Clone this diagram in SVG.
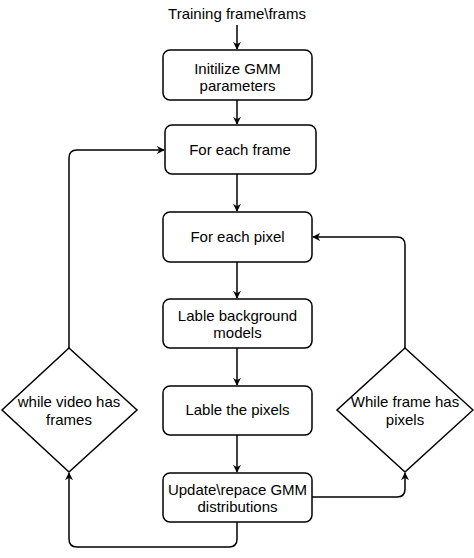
<svg xmlns="http://www.w3.org/2000/svg" width="474" height="558" viewBox="0 0 474 558">
<defs>
<style>
.box{fill:#fff;stroke:#000;stroke-width:1.5}
.t{font-family:"Liberation Sans",Arial,sans-serif;font-size:15px;fill:#000;text-anchor:middle}
.c{fill:none;stroke:#000;stroke-width:1.5}
</style>
<marker id="ah" viewBox="0 0 10 10" refX="9" refY="5" markerWidth="8" markerHeight="8" markerUnits="userSpaceOnUse" orient="auto"><path d="M0,0 L10,5 L0,10 L3,5 Z" fill="#000"/></marker>
</defs>
<rect width="474" height="558" fill="#fff"/>
<g id="connectors">
<path class="c" d="M237,25 V49" marker-end="url(#ah)"/>
<path class="c" d="M237,100 V124" marker-end="url(#ah)"/>
<path class="c" d="M237,174 V211" marker-end="url(#ah)"/>
<path class="c" d="M237,262 V298" marker-end="url(#ah)"/>
<path class="c" d="M237,348 V385" marker-end="url(#ah)"/>
<path class="c" d="M237,435 V472" marker-end="url(#ah)"/>
<path class="c" d="M237,522 V539 Q237,547 229,547 H77 Q69,547 69,539 V473" marker-end="url(#ah)"/>
<path class="c" d="M69,348 V158 Q69,150 77,150 H164" marker-end="url(#ah)"/>
<path class="c" d="M312,497 H397 Q405,497 405,489 V473" marker-end="url(#ah)"/>
<path class="c" d="M405,348 V245 Q405,237 397,237 H313" marker-end="url(#ah)"/>
</g>
<g id="start"><text class="t" x="237" y="19">Training frame\frams</text></g>
<g id="init"><rect class="box" x="163" y="50" width="149" height="50" rx="7"/><text class="t" x="237.5" y="74">Initilize GMM</text><text class="t" x="237.5" y="91">parameters</text></g>
<g id="frame"><rect class="box" x="165" y="125" width="151" height="49" rx="7"/><text class="t" x="240" y="155">For each frame</text></g>
<g id="pixel"><rect class="box" x="163" y="212" width="149" height="50" rx="7"/><text class="t" x="237.5" y="242">For each pixel</text></g>
<g id="lablebg"><rect class="box" x="163" y="299" width="149" height="49" rx="7"/><text class="t" x="237.5" y="321">Lable background</text><text class="t" x="237.5" y="338">models</text></g>
<g id="lablepx"><rect class="box" x="163" y="386" width="149" height="49" rx="7"/><text class="t" x="237.5" y="415">Lable the pixels</text></g>
<g id="update"><rect class="box" x="163" y="473" width="149" height="49" rx="7"/><text class="t" x="237.5" y="495">Update\repace GMM</text><text class="t" x="237.5" y="512">distributions</text></g>
<g id="whilevideo"><path class="box" d="M69,348 L137,410 L69,472 L2,410 Z"/><text class="t" x="69" y="407">while video has</text><text class="t" x="69" y="425">frames</text></g>
<g id="whileframe"><path class="box" d="M405,348 L473,410 L405,472 L337,410 Z"/><text class="t" x="405" y="407">While frame has</text><text class="t" x="405" y="425">pixels</text></g>
</svg>
